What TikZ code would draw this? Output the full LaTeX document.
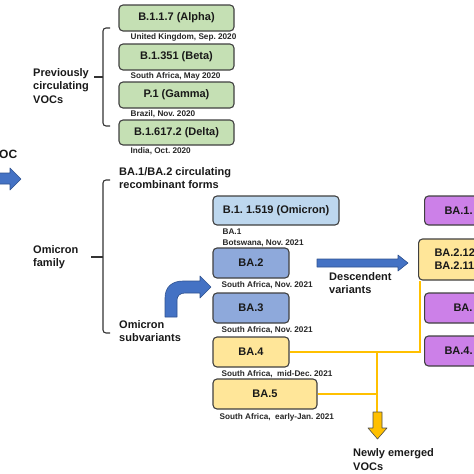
\documentclass[tikz,border=0pt]{standalone}
\usepackage{fontspec}
\setmainfont{Liberation Sans}
\usetikzlibrary{positioning}
\definecolor{vocgreen}{RGB}{197,224,180}
\definecolor{omiblue}{RGB}{189,215,238}
\definecolor{subblue}{RGB}{142,169,219}
\definecolor{subyellow}{RGB}{255,230,153}
\definecolor{subpurple}{RGB}{204,128,232}
\definecolor{boxborder}{RGB}{64,64,64}
\definecolor{arrowblue}{RGB}{68,114,196}
\definecolor{arrowdark}{RGB}{47,82,143}
\definecolor{linkyellow}{RGB}{255,192,0}
\tikzset{
  box/.style={draw=boxborder, line width=1.1pt, rounded corners=4pt, font=\fontsize{11}{13}\selectfont\bfseries, inner sep=0pt, align=center, text=black!90},
  greenbox/.style={box, fill=vocgreen, minimum width=115pt, minimum height=26pt},
  subbox/.style={box, minimum width=76pt, minimum height=30pt},
  sidebox/.style={box, anchor=west, text width=70pt, align=left, minimum height=30pt},
  date/.style={font=\fontsize{8.2}{11}\selectfont\bfseries, inner sep=0pt, align=left, text=black!85},
  cat/.style={font=\fontsize{11}{13.3}\selectfont\bfseries, inner sep=0pt, align=left, anchor=west, text=black!90},
  brace/.style={draw=black!80, line width=1.1pt, rounded corners=3pt},
  link/.style={draw=linkyellow, line width=1.5pt},
  bluearrow/.style={fill=arrowblue, draw=arrowdark, line width=0.6pt, line join=round}
}
\frenchspacing
\begin{document}
\begin{tikzpicture}[x=1pt, y=-1pt]
  \useasboundingbox (0,0) rectangle (474,474);
  \clip (0,0) rectangle (474,474);
  % previously circulating VOCs
  \node[cat] (prev) at (33,86) {Previously\\circulating\\VOCs};
  \node[greenbox] (alpha) at (176.5,18) {B.1.1.7 (Alpha)};
  \node[date, below right=2pt and 12pt of alpha.south west] (alphadate) {United Kingdom, Sep. 2020};
  \node[greenbox] (beta) at (176.5,57) {B.1.351 (Beta)};
  \node[date, below right=2pt and 12pt of beta.south west] (betadate) {South Africa, May 2020};
  \node[greenbox] (gamma) at (176.5,95) {P.1 (Gamma)};
  \node[date, below right=2pt and 12pt of gamma.south west] (gammadate) {Brazil, Nov. 2020};
  \node[greenbox, minimum height=25pt] (delta) at (176.5,132.5) {B.1.617.2 (Delta)};
  \node[date, below right=2pt and 12pt of delta.south west] (deltadate) {India, Oct. 2020};
  \draw[brace] (110,28) -- (103,28) -- (103,126) -- (110,126);
  \draw[brace] (103,77) -- (94,77);

  \node[cat, font=\fontsize{12}{14}\selectfont\bfseries] (voc) at (-1,154) {OC};
  \draw[bluearrow] (-2,173) -- (10,173) -- (10,168) -- (21,179) -- (10,190) -- (10,184) -- (-2,184) -- cycle;

  % omicron family
  \node[cat] (recomb) at (119,178) {BA.1/BA.2 circulating\\recombinant forms};
  \node[cat] (family) at (33,257.5) {Omicron\\family};
  \node[cat] (subvar) at (119,331) {Omicron\\subvariants};
  \draw[brace] (110,180) -- (103,180) -- (103,333) -- (110,333);
  \draw[brace] (103,257) -- (91,257);

  \node[box, fill=omiblue, minimum width=126pt, minimum height=29pt] (omicron) at (276,210.5) {B.1. 1.519 (Omicron)};
  \node[date, below right=3pt and 10pt of omicron.south west] (omidate) {BA.1\\Botswana, Nov. 2021};
  \node[subbox, fill=subblue] (ba2) at (251,263) {BA.2};
  \node[date, below right=3pt and 9pt of ba2.south west] (ba2date) {South Africa, Nov. 2021};
  \node[subbox, fill=subblue] (ba3) at (251,308) {BA.3};
  \node[date, below right=3pt and 9pt of ba3.south west] (ba3date) {South Africa, Nov. 2021};
  \node[subbox, fill=subyellow] (ba4) at (251,352) {BA.4};
  \node[date, below right=3pt and 9pt of ba4.south west] (ba4date) {South Africa,\ \ mid-Dec. 2021};
  \node[subbox, fill=subyellow, minimum width=104pt] (ba5) at (265,394) {BA.5};
  \node[date, below right=4pt and 7pt of ba5.south west] (ba5date) {South Africa,\ \ early-Jan. 2021};

  \draw[bluearrow] (165,317) -- (165,298) .. controls (165,287) and (172,281) .. (183,281) -- (200,281) -- (200,276) -- (211,287) -- (200,298) -- (200,293) -- (185,293) .. controls (180,293) and (177,296) .. (177,300) -- (177,317) -- cycle;

  % descendent variants, cut at the right edge
  \node[sidebox, fill=subpurple, inner xsep=20pt, minimum height=29pt] (ba1x) at (424,210.5) {BA.1.};
  \node[sidebox, fill=subyellow, inner xsep=16pt, minimum height=41pt] (ba212) at (418,259.5) {BA.2.12\\BA.2.11};
  \node[sidebox, fill=subpurple, inner xsep=29pt] (ba3x) at (424,308) {BA.};
  \node[sidebox, fill=subpurple, inner xsep=20pt] (ba4x) at (424,351) {BA.4.};
  \draw[bluearrow] (317,259) -- (398,259) -- (398,255) -- (408,263) -- (398,271) -- (398,267) -- (317,267) -- cycle;
  \node[cat] (desc) at (329,283) {Descendent\\variants};

  % newly emerged
  \coordinate (jtop) at (377,352);
  \coordinate (jbot) at (377,413);
  \draw[link] (ba4.east) -| ([xshift=2pt]ba212.south west);
  \draw[link] (ba5.east) -- (ba5.east -| jtop);
  \draw[link] (jtop) -- (jbot);
  \draw[fill=linkyellow, draw=black!70, line width=0.6pt, line join=round] (373,412) -- (382,412) -- (382,428) -- (387,428) -- (377.5,439) -- (368,428) -- (373,428) -- cycle;
  \node[cat] (newly) at (353,459.5) {Newly emerged\\VOCs};
\end{tikzpicture}
\end{document}
